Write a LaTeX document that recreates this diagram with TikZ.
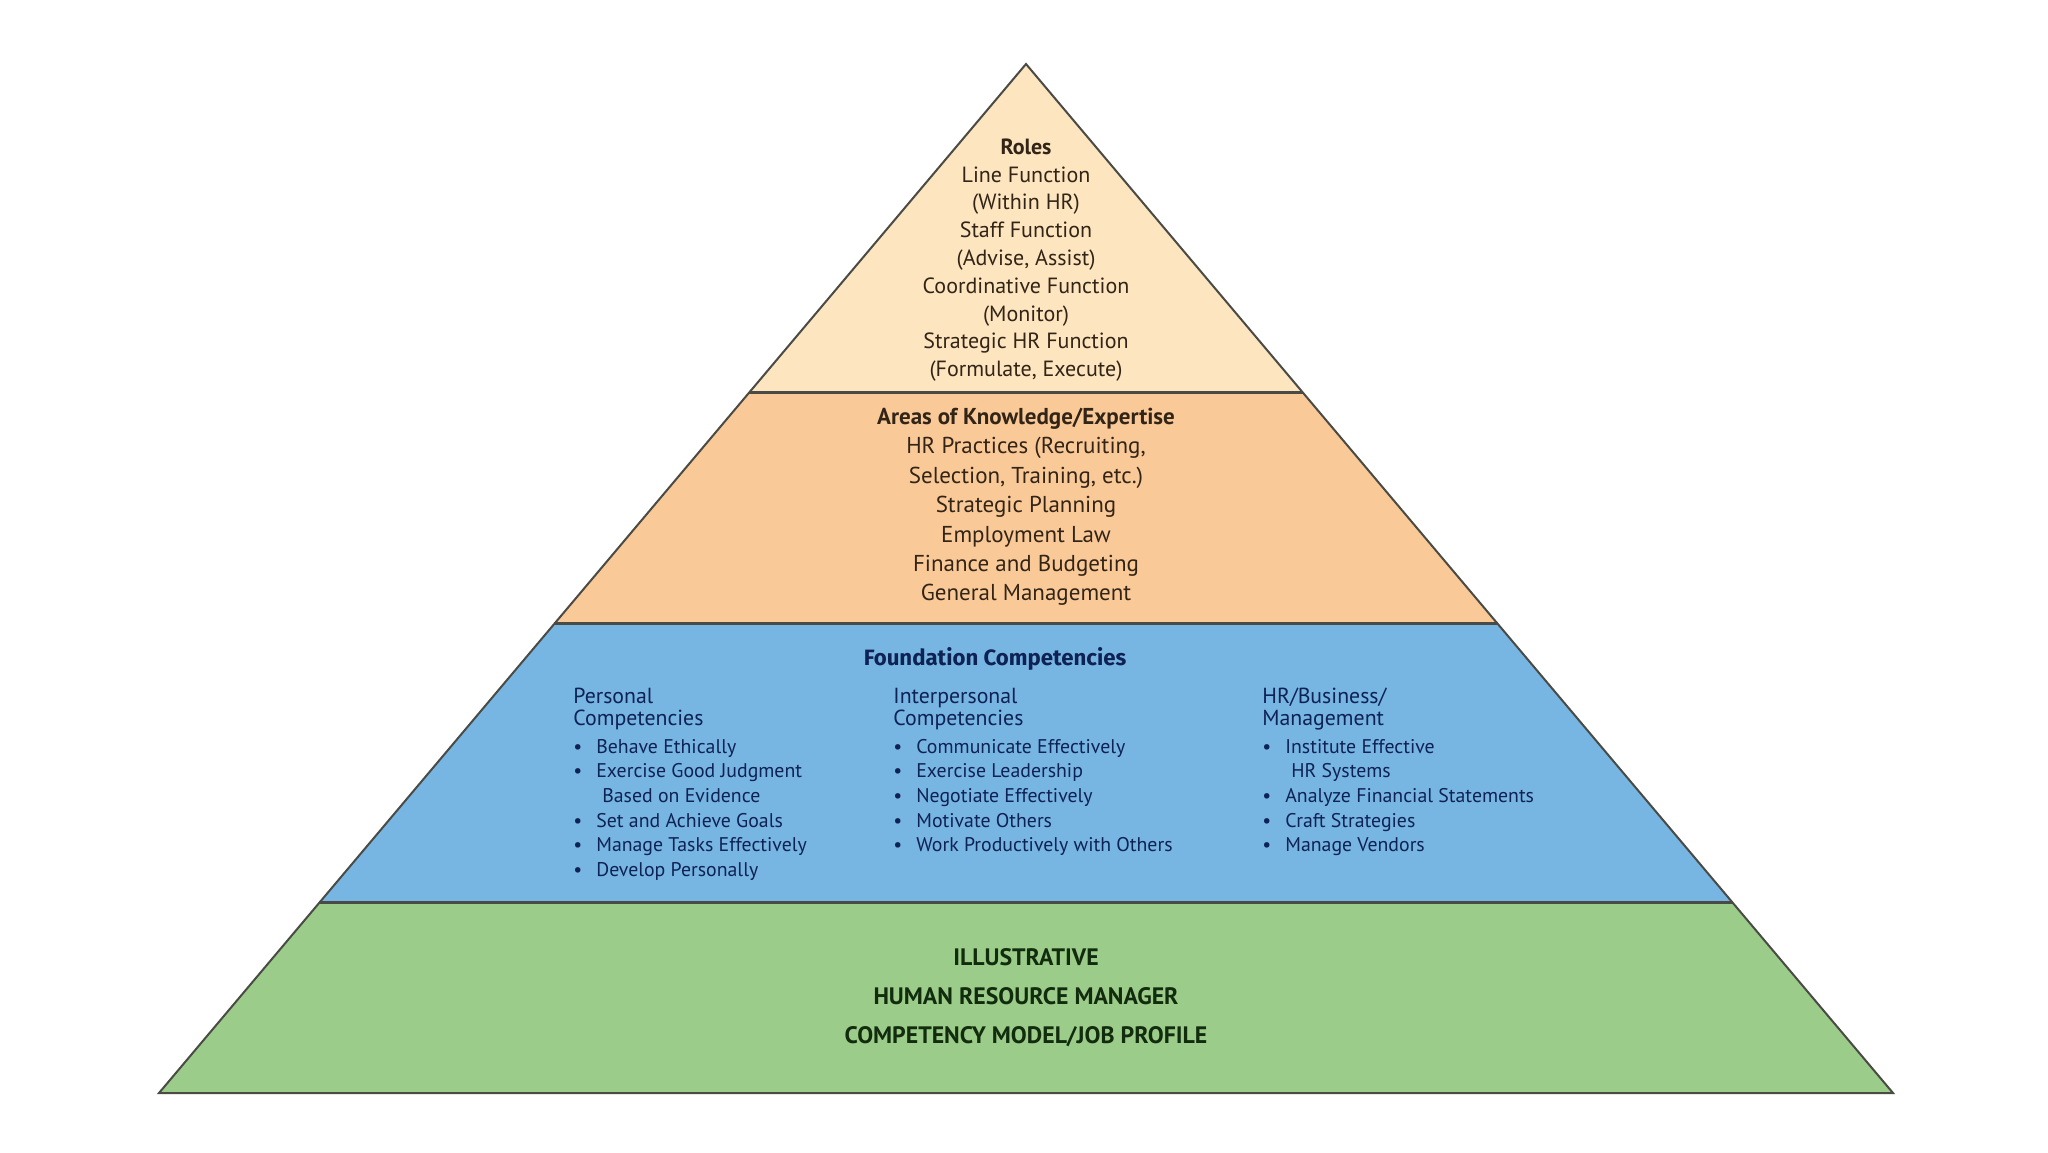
\documentclass[tikz,border=0pt]{standalone}
\usepackage{fontspec}
\setmainfont{PT Sans}
\newfontfamily\headfont{Fira Sans}
\usepackage{array}
\usetikzlibrary{calc}
\definecolor{RolesBg}{RGB}{252,229,191}
\definecolor{AreasBg}{RGB}{250,201,152}
\definecolor{FoundBg}{RGB}{119,181,226}
\definecolor{ModelBg}{RGB}{156,204,138}
\definecolor{EdgeGray}{RGB}{75,75,70}
\definecolor{BrownText}{RGB}{50,36,22}
\definecolor{NavyText}{RGB}{14,34,84}
\definecolor{GreenText}{RGB}{18,44,14}

\tikzset{
  band/.style={draw=EdgeGray,line width=1pt,line join=miter},
  bandtext/.style={align=center,inner sep=0pt},
  colhead/.style={inner sep=0pt,anchor=north west,text=NavyText,
    font=\fontsize{9.9}{12.3}\selectfont}
}
\newcommand{\bl}{\textbullet&}
\newcommand{\colname}[1]{\multicolumn{2}{@{}l@{}}{\fontsize{10.9}{11}\selectfont #1}}

\begin{document}
\begin{tikzpicture}[x=0.5pt,y=-0.5pt]
    \useasboundingbox (0,0) rectangle (2048,1152);
    \fill[white] (0,0) rectangle (2048,1152);
    % outline of the pyramid
    \coordinate (apex) at (1026,64);
    \coordinate (baseL) at (159,1093);
    \coordinate (baseR) at (1893,1093);
    \coordinate (rolesL) at ($(apex)!0.319!(baseL)$);
    \coordinate (rolesR) at ($(apex)!0.319!(baseR)$);
    \coordinate (areasL) at ($(apex)!0.544!(baseL)$);
    \coordinate (areasR) at ($(apex)!0.544!(baseR)$);
    \coordinate (foundL) at ($(apex)!0.815!(baseL)$);
    \coordinate (foundR) at ($(apex)!0.815!(baseR)$);
    \fill[RolesBg] (apex) -- (rolesL) -- (rolesR) -- cycle;
    \fill[AreasBg] (rolesL) -- (areasL) -- (areasR) -- (rolesR) -- cycle;
    \fill[FoundBg] (areasL) -- (foundL) -- (foundR) -- (areasR) -- cycle;
    \fill[ModelBg] (foundL) -- (baseL) -- (baseR) -- (foundR) -- cycle;
    \draw[band] (apex) -- (baseL) -- (baseR) -- cycle;
    \draw[band,line width=1.5pt] (rolesL) -- (rolesR);
    \draw[band,line width=1.5pt] (areasL) -- (areasR);
    \draw[band,line width=1.5pt] (foundL) -- (foundR);

    % roles
    \node[bandtext,text=BrownText,font=\fontsize{11}{13.9}\selectfont] (roles) at (1026,260) {
      \textbf{Roles}\\ Line Function\\ (Within HR)\\ Staff Function\\ (Advise, Assist)\\
      Coordinative Function\\ (Monitor)\\ Strategic HR Function\\ (Formulate, Execute)};

    % knowledge
    \node[bandtext,text=BrownText,font=\fontsize{11.5}{14.7}\selectfont] (areas) at (1026,507) {
      \textbf{Areas of Knowledge/Expertise}\\ HR Practices (Recruiting,\\ Selection, Training, etc.)\\
      Strategic Planning\\ Employment Law\\ Finance and Budgeting\\ General Management};

    % foundation
    \node[bandtext,text=NavyText,font=\headfont\bfseries\fontsize{11.1}{12}\selectfont] (found) at (995,659) {Foundation Competencies};

    \node[colhead] (personal) at (573,686) {%
      \begin{tabular}{@{}l@{\hspace{7pt}}l@{}}
        \colname{Personal}\\[-1.3pt]
        \colname{Competencies}\\[1.5pt]
        \bl Behave Ethically\\
        \bl Exercise Good Judgment\\
        & \hspace{3pt}Based on Evidence\\
        \bl Set and Achieve Goals\\
        \bl Manage Tasks Effectively\\
        \bl Develop Personally
      \end{tabular}};

    \node[colhead] (interpersonal) at (893,686) {%
      \begin{tabular}{@{}l@{\hspace{7pt}}l@{}}
        \colname{Interpersonal}\\[-1.3pt]
        \colname{Competencies}\\[1.5pt]
        \bl Communicate Effectively\\
        \bl Exercise Leadership\\
        \bl Negotiate Effectively\\
        \bl Motivate Others\\
        \bl Work Productively with Others
      \end{tabular}};

    \node[colhead] (business) at (1262,686) {%
      \begin{tabular}{@{}l@{\hspace{7pt}}l@{}}
        \colname{HR/Business/}\\[-1.3pt]
        \colname{Management}\\[1.5pt]
        \bl Institute Effective\\
        & \hspace{3pt}HR Systems\\
        \bl Analyze Financial Statements\\
        \bl Craft Strategies\\
        \bl Manage Vendors
      \end{tabular}};

    % model
    \node[bandtext,text=GreenText,font=\bfseries\fontsize{11.9}{19.5}\selectfont] (model) at (1026,998) {
      ILLUSTRATIVE\\ HUMAN RESOURCE MANAGER\\ COMPETENCY MODEL/JOB PROFILE};
\end{tikzpicture}
\end{document}
